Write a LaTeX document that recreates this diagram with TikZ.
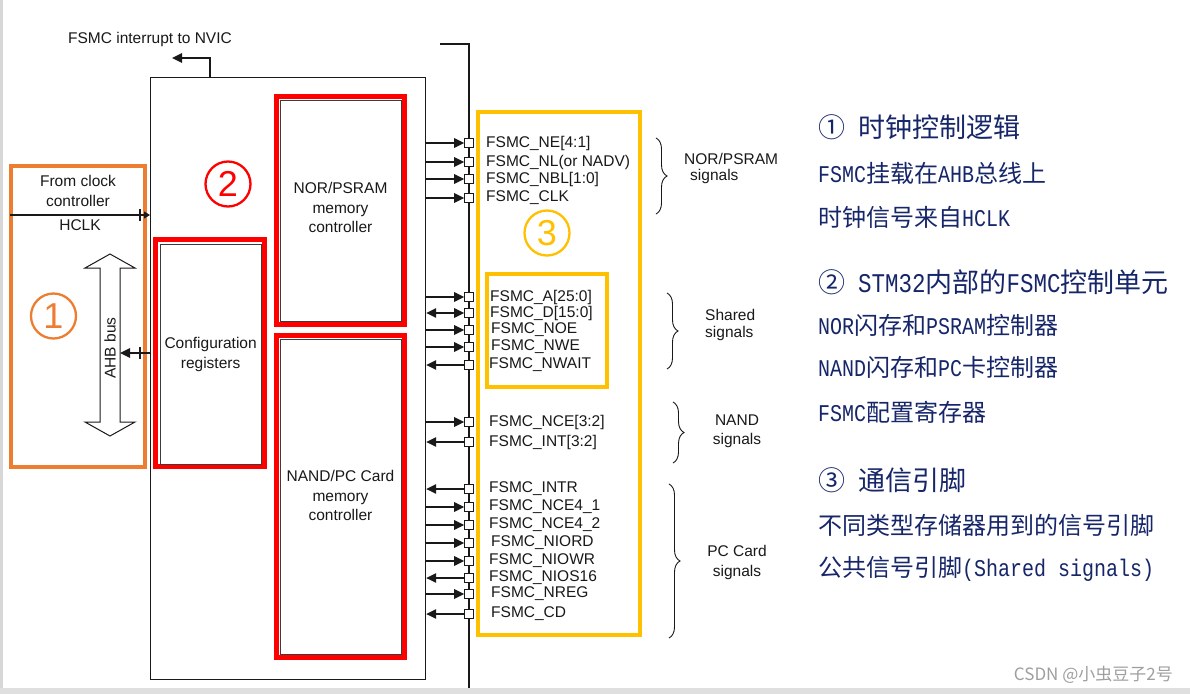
\documentclass[tikz,border=0pt]{standalone}
\usepackage{fontspec}
\setmainfont{Liberation Sans}
\newfontfamily\cjk{Noto Sans CJK SC}
\newfontfamily\lat[FakeStretch=0.833]{Liberation Mono}
\usetikzlibrary{arrows.meta,decorations.pathreplacing}
\definecolor{navy}{RGB}{22,38,105}
\definecolor{orng}{RGB}{237,125,49}
\definecolor{yel}{RGB}{255,192,0}
\definecolor{redc}{RGB}{255,0,0}
\definecolor{ink}{RGB}{25,25,25}
\definecolor{edge}{RGB}{215,215,215}
\begin{document}
\begin{tikzpicture}[x=1pt,y=-1pt,
  lbl/.style={font=\fontsize{15.5}{19.5}\selectfont, text=ink, inner sep=0pt, align=center},
  pinlbl/.style={font=\fontsize{15.5}{18}\selectfont, text=ink, inner sep=0pt, anchor=west},
  pinsq/.style={draw=ink, fill=white, line width=1.1pt, minimum size=8.5pt, inner sep=0pt},
  wire/.style={draw=ink, line width=1.3pt},
  arro/.style={wire, -{Triangle[length=10pt,width=9.5pt]}},
  arri/.style={wire, {Triangle[length=10pt,width=9.5pt]}-},
  arrb/.style={wire, {Triangle[length=10pt,width=9.5pt]}-{Triangle[length=10pt,width=9.5pt]}},
  innerbox/.style={draw=ink!85, line width=1.2pt, inner sep=0pt, anchor=north west, align=center,
     font=\fontsize{15.5}{19.5}\selectfont, text=ink},
  redbox/.style={draw=redc, line width=5.5pt},
  circnum/.style={circle, draw=#1, line width=2.3pt, minimum size=45pt, inner sep=0pt,
     text=#1, font=\fontsize{36}{36}\selectfont},
  brc/.style={draw=ink, line width=0.9pt, decorate, decoration={brace, amplitude=11pt, raise=0pt}},
  rtxt/.style={font=\cjk\fontsize{24}{28}\selectfont, text=navy, anchor=west, inner sep=0pt},
  rhead/.style={font=\cjk\fontsize{27}{30}\selectfont, text=navy, anchor=west, inner sep=0pt}
]
\useasboundingbox (0,0) rectangle (1190,694);
\fill[white] (0,0) rectangle (1190,694);
\fill[edge] (0,0) rectangle (2.5,694);
\fill[edge!80] (0,688) rectangle (1190,694);

% main FSMC block
\node[draw=ink, line width=1.2pt, minimum width=275pt, minimum height=602pt, inner sep=0pt, anchor=north west] (fsmc) at (150,77) {};

% interrupt
\node[lbl] (irqlbl) at (150,39) {FSMC interrupt to NVIC};
\coordinate (irq) at (172,58);
\draw[arro] (210,77) |- (irq);

% pin bus
\coordinate (bustop) at (440,44);
\draw[wire, line width=1.2pt] (bustop) -- (469,44) -- (469,688);

% clock area (1)
\draw[draw=orng, line width=4pt] (10.5,165.5) rectangle (144.5,467);
\node[lbl] (clk) at (78,191) {From clock\\controller};
\node[lbl] (hclk) at (80,225) {HCLK};
\coordinate (clksrc) at (10,215);
\draw[wire, line width=1.1pt, -{Triangle[length=6pt,width=7pt]}] (clksrc) -- (fsmc.west |- clksrc);
\draw[ink, line width=2.2pt] (140,209) -- (140,221);

% AHB bus double arrow
\draw[ink, line width=1pt, fill=white] (110,254) -- (135,268) -- (120,268) -- (120,422) -- (135,422) -- (110,436)
  -- (85,422) -- (100,422) -- (100,268) -- (85,268) -- cycle;
\node[lbl, rotate=90] (ahblbl) at (110,348) {AHB bus};
\coordinate (ahb) at (120,353);
\draw[arri, line width=1.2pt] (ahb) -- (fsmc.west |- ahb);
\draw[ink, line width=2.2pt] (140,347) -- (140,359);
\node[circnum=orng] (n1) at (53.5,316) {1};

% configuration registers
\draw[redbox] (155.5,239.5) rectangle (264.5,466.5);
\node[innerbox, minimum width=101pt, minimum height=220.5pt] (cfg) at (159.5,243.5) {};
\node[lbl] (cfglbl) at (cfg.center) {Configuration\\registers};

% NOR/PSRAM controller
\draw[redbox] (276.5,96.5) rectangle (404.5,324.5);
\node[innerbox, minimum width=121pt, minimum height=221pt] (nor) at (280,100) {};
\node[lbl] (norlbl) at (340.5,207.5) {NOR/PSRAM\\memory\\controller};

% NAND/PC Card controller
\draw[redbox] (276.5,335.5) rectangle (404.5,657.5);
\node[innerbox, minimum width=121pt, minimum height=315pt] (nand) at (280,339) {};
\node[lbl] (nandlbl) at (340.5,495.5) {NAND/PC Card\\memory\\controller};

\node[circnum=redc] (n2) at (228,184) {2};

% signal pins area (3)
\draw[draw=yel, line width=4pt] (478,112) rectangle (640,635);
\draw[draw=yel, line width=4pt] (487,274) rectangle (607,387);
\node[circnum=yel] (n3) at (547,233) {3};

% output pins
\foreach \y/\nm/\lab/\lx in {143/ne/FSMC\_NE[4:1]/486, 162/nl/FSMC\_NL(or NADV)/486,
   179/nbl/FSMC\_NBL[1:0]/486, 198/clkp/FSMC\_CLK/486, 297/a/FSMC\_A[25:0]/490,
   330/noe/FSMC\_NOE/491, 347/nwe/FSMC\_NWE/491, 422/nce/FSMC\_NCE[3:2]/489,
   507/nceA/FSMC\_NCE4\_1/489, 525/nceB/FSMC\_NCE4\_2/489, 543/niord/FSMC\_NIORD/491,
   561/niowr/FSMC\_NIOWR/489, 594/nreg/FSMC\_NREG/491}{
  \node[pinsq] (p\nm) at (469,\y) {};
  \draw[arro] (fsmc.east |- p\nm) -- (p\nm.west);
  \node[pinlbl] (l\nm) at (\lx,\y) {\lab};
}
% input pins
\foreach \y/\nm/\lab/\lx in {365/nwait/FSMC\_NWAIT/489, 442/int/FSMC\_INT[3:2]/489,
   489/intr/FSMC\_INTR/489, 578/nios/FSMC\_NIOS16/489, 614/cd/FSMC\_CD/491}{
  \node[pinsq] (p\nm) at (469,\y) {};
  \draw[arri] (fsmc.east |- p\nm) -- (p\nm.west);
  \node[pinlbl] (l\nm) at (\lx,\y) {\lab};
}
% bidirectional pin
\node[pinsq] (pd) at (469,313) {};
\draw[arrb] (fsmc.east |- pd) -- (pd.west);
\node[pinlbl] (ld) at (490,313) {FSMC\_D[15:0]};

% braces and group labels
\draw[brc] (656,138) -- (656,214);
\node[pinlbl] (g1a) at (684,159) {NOR/PSRAM};
\node[pinlbl] (g1b) at (690,176) {signals};
\draw[brc] (667,293) -- (667,369);
\node[pinlbl] (g2a) at (705,315) {Shared};
\node[pinlbl] (g2b) at (705,333) {signals};
\draw[brc] (673,402) -- (673,463);
\node[lbl] (g3) at (737,431.5) {NAND\\signals};
\draw[brc] (669,484) -- (669,638);
\node[lbl] (g4) at (737,562.5) {PC Card\\signals};

% explanatory text
\node[rhead] (h1) at (818,127) {①\hspace{13pt}时钟控制逻辑};
\node[rtxt] (t11) at (818,173) {{\lat FSMC}挂载在{\lat AHB}总线上};
\node[rtxt] (t12) at (818,217) {时钟信号来自{\lat HCLK}};
\node[rhead] (h2) at (818,282) {②\hspace{13pt}{\lat STM32}内部的{\lat FSMC}控制单元};
\node[rtxt] (t21) at (818,325) {{\lat NOR}闪存和{\lat PSRAM}控制器};
\node[rtxt] (t22) at (818,367) {{\lat NAND}闪存和{\lat PC}卡控制器};
\node[rtxt] (t23) at (818,412) {{\lat FSMC}配置寄存器};
\node[rhead] (h3) at (818,480) {③\hspace{13pt}通信引脚};
\node[rtxt] (t31) at (818,525) {不同类型存储器用到的信号引脚};
\node[rtxt] (t32) at (818,569) {公共信号引脚{\lat (Shared signals)}};

\node[font=\cjk\fontsize{17}{20}\selectfont, text=gray!75, anchor=east, inner sep=0pt] (wm) at (1173,675) {CSDN @小虫豆子2号};
\end{tikzpicture}
\end{document}
